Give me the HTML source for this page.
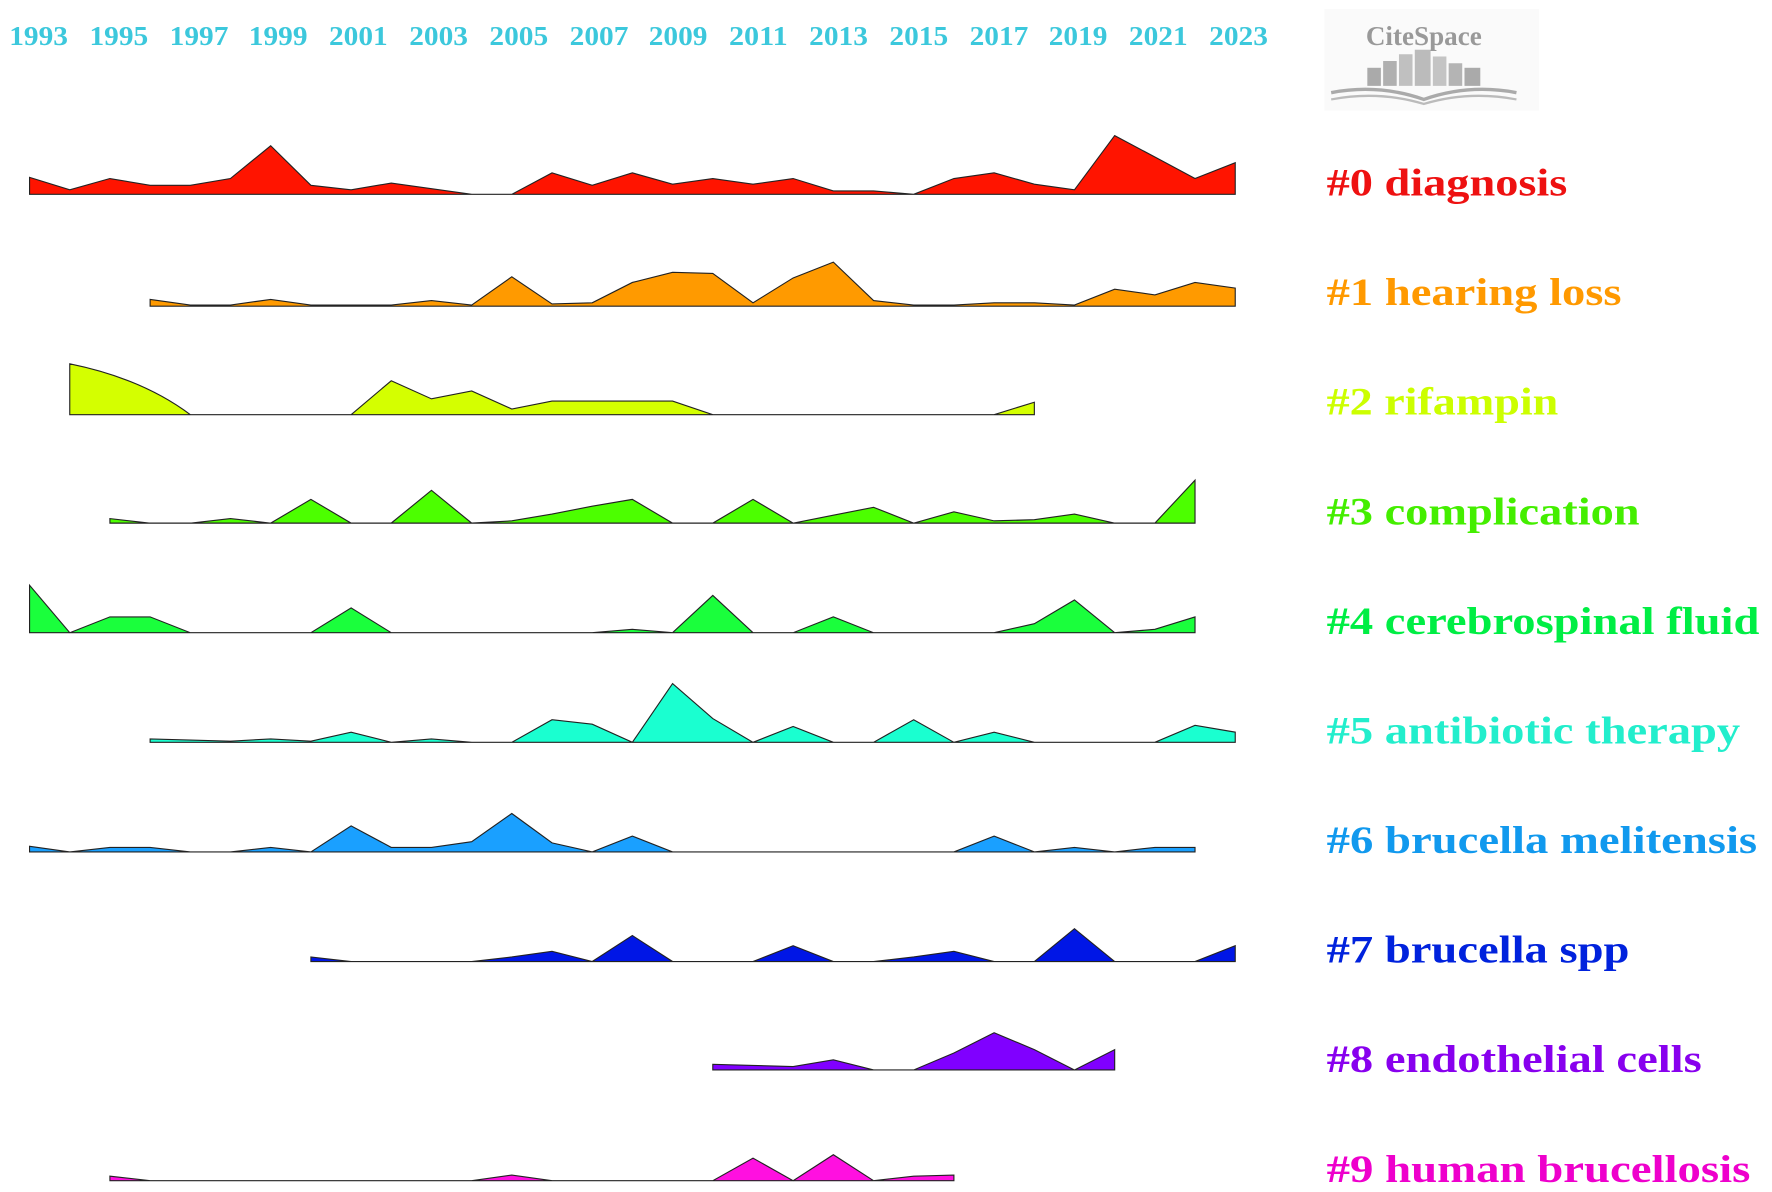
<!DOCTYPE html>
<html><head><meta charset="utf-8"><style>
html,body{margin:0;padding:0;background:#fff;}
svg{display:block;}
text{font-family:"Liberation Serif",serif;font-weight:bold;}
</style></head><body>
<svg id="s" width="1772" height="1192" viewBox="0 0 1568 1055" xmlns="http://www.w3.org/2000/svg">
<rect width="1568" height="1055" fill="#fff"/>
<g fill="#3cc8dc" font-size="24" text-anchor="middle">
<text x="34" y="40" textLength="52" lengthAdjust="spacingAndGlyphs">1993</text><text x="105" y="40" textLength="52" lengthAdjust="spacingAndGlyphs">1995</text><text x="176" y="40" textLength="52" lengthAdjust="spacingAndGlyphs">1997</text><text x="246" y="40" textLength="52" lengthAdjust="spacingAndGlyphs">1999</text><text x="317" y="40" textLength="52" lengthAdjust="spacingAndGlyphs">2001</text><text x="388" y="40" textLength="52" lengthAdjust="spacingAndGlyphs">2003</text><text x="459" y="40" textLength="52" lengthAdjust="spacingAndGlyphs">2005</text><text x="530" y="40" textLength="52" lengthAdjust="spacingAndGlyphs">2007</text><text x="600" y="40" textLength="52" lengthAdjust="spacingAndGlyphs">2009</text><text x="671" y="40" textLength="52" lengthAdjust="spacingAndGlyphs">2011</text><text x="742" y="40" textLength="52" lengthAdjust="spacingAndGlyphs">2013</text><text x="813" y="40" textLength="52" lengthAdjust="spacingAndGlyphs">2015</text><text x="884" y="40" textLength="52" lengthAdjust="spacingAndGlyphs">2017</text><text x="954" y="40" textLength="52" lengthAdjust="spacingAndGlyphs">2019</text><text x="1025" y="40" textLength="52" lengthAdjust="spacingAndGlyphs">2021</text><text x="1096" y="40" textLength="52" lengthAdjust="spacingAndGlyphs">2023</text>
</g>
<g>
<rect x="1172" y="8" width="190" height="90" fill="#fafafa"/>
<text x="1260" y="40" font-size="24" fill="#999" text-anchor="middle" font-family="Liberation Sans">CiteSpace</text>
<rect x="1210" y="60" width="12" height="16" fill="#aaa"/><rect x="1224" y="54" width="12" height="22" fill="#b0b0b0"/><rect x="1238" y="48" width="12" height="28" fill="#c0c0c0"/><rect x="1252" y="44" width="14" height="32" fill="#bbb"/><rect x="1268" y="50" width="12" height="26" fill="#c4c4c4"/><rect x="1282" y="56" width="12" height="20" fill="#b4b4b4"/><rect x="1296" y="60" width="14" height="16" fill="#aaa"/>
<path d="M1178 82 Q1220 74 1260 88 Q1300 74 1342 82" stroke="#aaa" stroke-width="3" fill="none"/>
<path d="M1178 88 Q1220 80 1260 92 Q1300 80 1342 88" stroke="#bbb" stroke-width="2" fill="none"/>
</g>
<g id="areas"></g>
<g font-size="35" lengthAdjust="spacingAndGlyphs">
<text x="1174" y="173" fill="#ee1111" textLength="213" lengthAdjust="spacingAndGlyphs">#0 diagnosis</text>
<text x="1174" y="270" fill="#ff9900" textLength="261" lengthAdjust="spacingAndGlyphs">#1 hearing loss</text>
<text x="1174" y="367" fill="#ccff00" textLength="205" lengthAdjust="spacingAndGlyphs">#2 rifampin</text>
<text x="1174" y="464" fill="#44ee00" textLength="277" lengthAdjust="spacingAndGlyphs">#3 complication</text>
<text x="1174" y="561" fill="#00ee44" textLength="383" lengthAdjust="spacingAndGlyphs">#4 cerebrospinal fluid</text>
<text x="1174" y="658" fill="#22eecc" textLength="366" lengthAdjust="spacingAndGlyphs">#5 antibiotic therapy</text>
<text x="1174" y="755" fill="#1199ee" textLength="381" lengthAdjust="spacingAndGlyphs">#6 brucella melitensis</text>
<text x="1174" y="852" fill="#0022dd" textLength="268" lengthAdjust="spacingAndGlyphs">#7 brucella spp</text>
<text x="1174" y="949" fill="#8800ee" textLength="332" lengthAdjust="spacingAndGlyphs">#8 endothelial cells</text>
<text x="1174" y="1046" fill="#ee00cc" textLength="375" lengthAdjust="spacingAndGlyphs">#9 human brucellosis</text>
</g>
</svg>
<script>
var S=[
["#ff1400",172,1993,[157,168,158,164,164,158,129,164,168,162,167,172,172,153,164,153,163,158,163,158,169,169,172,158,153,163,168,120,139,158,144]],
["#ff9a00",271,1996,[265,270,270,265,270,270,270,266,270,245,269,268,250,241,242,268,246,232,266,270,270,268,268,270,256,261,250,255]],
["#d4ff00",367,1994,[322,330,345,367,367,367,367,367,337,353,346,362,355,355,355,355,367,367,367,367,367,367,367,367,356]],
["#4cff00",463,1995,[459,463,463,459,463,442,463,463,434,463,461,455,448,442,463,463,442,463,456,449,463,453,461,460,455,463,463,425]],
["#1aff3c",560,1993,[518,560,546,546,560,560,560,560,538,560,560,560,560,560,560,557,560,527,560,560,546,560,560,560,560,552,531,560,557,546]],
["#1affd0",657,1996,[654,655,656,654,656,648,657,654,657,657,637,641,657,605,636,657,643,657,657,637,657,648,657,657,657,657,642,648]],
["#1aa0ff",754,1993,[749,754,750,750,754,754,750,754,731,750,750,745,720,746,754,740,754,754,754,754,754,754,754,754,740,754,750,754,750,750]],
["#0016e6",851,2000,[847,851,851,851,851,847,842,851,828,851,851,851,837,851,851,847,842,851,851,822,851,851,851,837]],
["#8000ff",947,2010,[942,943,944,938,947,947,932,914,929,947,929]],
["#ff10e0",1045,1995,[1041,1045,1045,1045,1045,1045,1045,1045,1045,1045,1040,1045,1045,1045,1045,1045,1025,1045,1022,1045,1041,1040]]
];
var g=document.getElementById("areas"),h="";
function X(y){return 26+(y-1993)*35.57;}
S.forEach(function(s,k){
 var b=s[1],y0=s[2],v=s[3],x0=X(y0),x1=X(y0+v.length-1);
 var d="M"+x0+" "+b;
 if(k==2){
  d+=" L"+x0+" 322 Q"+X(1995.8).toFixed(1)+" 335 "+X(1997).toFixed(1)+" 367";
  for(var i=3;i<v.length;i++) d+=" L"+X(y0+i).toFixed(1)+" "+v[i];
 } else {
  v.forEach(function(t,i){d+=" L"+X(y0+i).toFixed(1)+" "+t;});
 }
 d+=" L"+x1.toFixed(1)+" "+b+" Z";
 h+='<path d="'+d+'" fill="'+s[0]+'" stroke="#222" stroke-width="1"/>';
});
g.innerHTML=h;
</script>
</body></html>
